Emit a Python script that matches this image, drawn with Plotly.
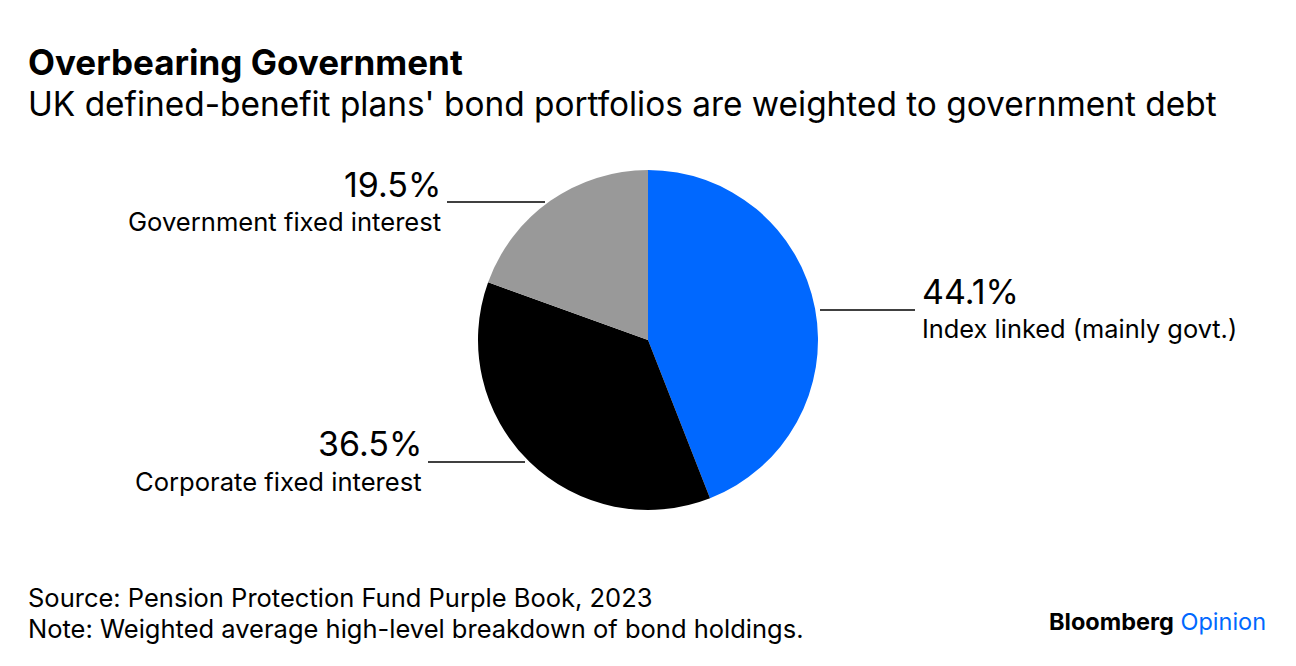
import plotly.graph_objects as go

labels = ["Index linked (mainly govt.)", "Corporate fixed interest", "Government fixed interest"]
values = [44.1, 36.5, 19.5]
colors = ["#0068ff", "#000000", "#999999"]

W, H = 1296, 666
OX, OY = -8, -8
def px(x): return (x + OX) / W
def py(y): return 1 - (y + OY) / H

fig = go.Figure(go.Pie(labels=labels, values=values, sort=False, direction="clockwise",
                       rotation=0, marker=dict(colors=colors, line=dict(width=0)),
                       textinfo="none", hoverinfo="label+value",
                       domain=dict(x=[px(648-170), px(648+170)], y=[py(510), py(170)])))

ann = []
def txt(x, y, s, size, anchor="left", bold=False, color="#000"):
    ann.append(dict(x=px(x), y=py(y), xref="paper", yref="paper", text=f"<b>{s}</b>" if bold else s,
                    showarrow=False, xanchor=anchor, yanchor="middle",
                    font=dict(family="Inter", size=size, color=color)))

txt(26, 62, "Overbearing Government", 35, bold=True)
txt(26, 104, "UK defined-benefit plans' bond portfolios are weighted to government debt", 33.4)
txt(443, 185, "19.5%", 34, anchor="right")
txt(443, 221, "Government fixed interest", 25.6, anchor="right")
txt(920, 292, "44.1%", 34)
txt(920, 328, "Index linked (mainly govt.)", 25.4)
txt(424, 443, "36.5%", 34, anchor="right")
txt(424, 481, "Corporate fixed interest", 25.6, anchor="right")
txt(26, 597, "Source: Pension Protection Fund Purple Book, 2023", 25.5)
txt(26, 628, "Note: Weighted average high-level breakdown of bond holdings.", 25.5)
ann.append(dict(x=px(1268), y=py(621), xref="paper", yref="paper", showarrow=False,
                xanchor="right", yanchor="middle",
                text="<b>Bloomberg</b> <span style='color:#0068ff'>Opinion</span>",
                font=dict(family="Inter", size=23.5, color="#000")))

shapes = []
for x0, x1, y in [(447, 545, 202), (820, 915, 310), (428, 525, 462)]:
    shapes.append(dict(type="line", xref="paper", yref="paper", x0=px(x0), x1=px(x1),
                       y0=py(y), y1=py(y), line=dict(color="#000", width=1.5)))

fig.update_layout(width=W, height=H, margin=dict(l=0, r=0, t=0, b=0), showlegend=False,
                  paper_bgcolor="white", plot_bgcolor="white", annotations=ann, shapes=shapes)
fig.write_html("out.html")
